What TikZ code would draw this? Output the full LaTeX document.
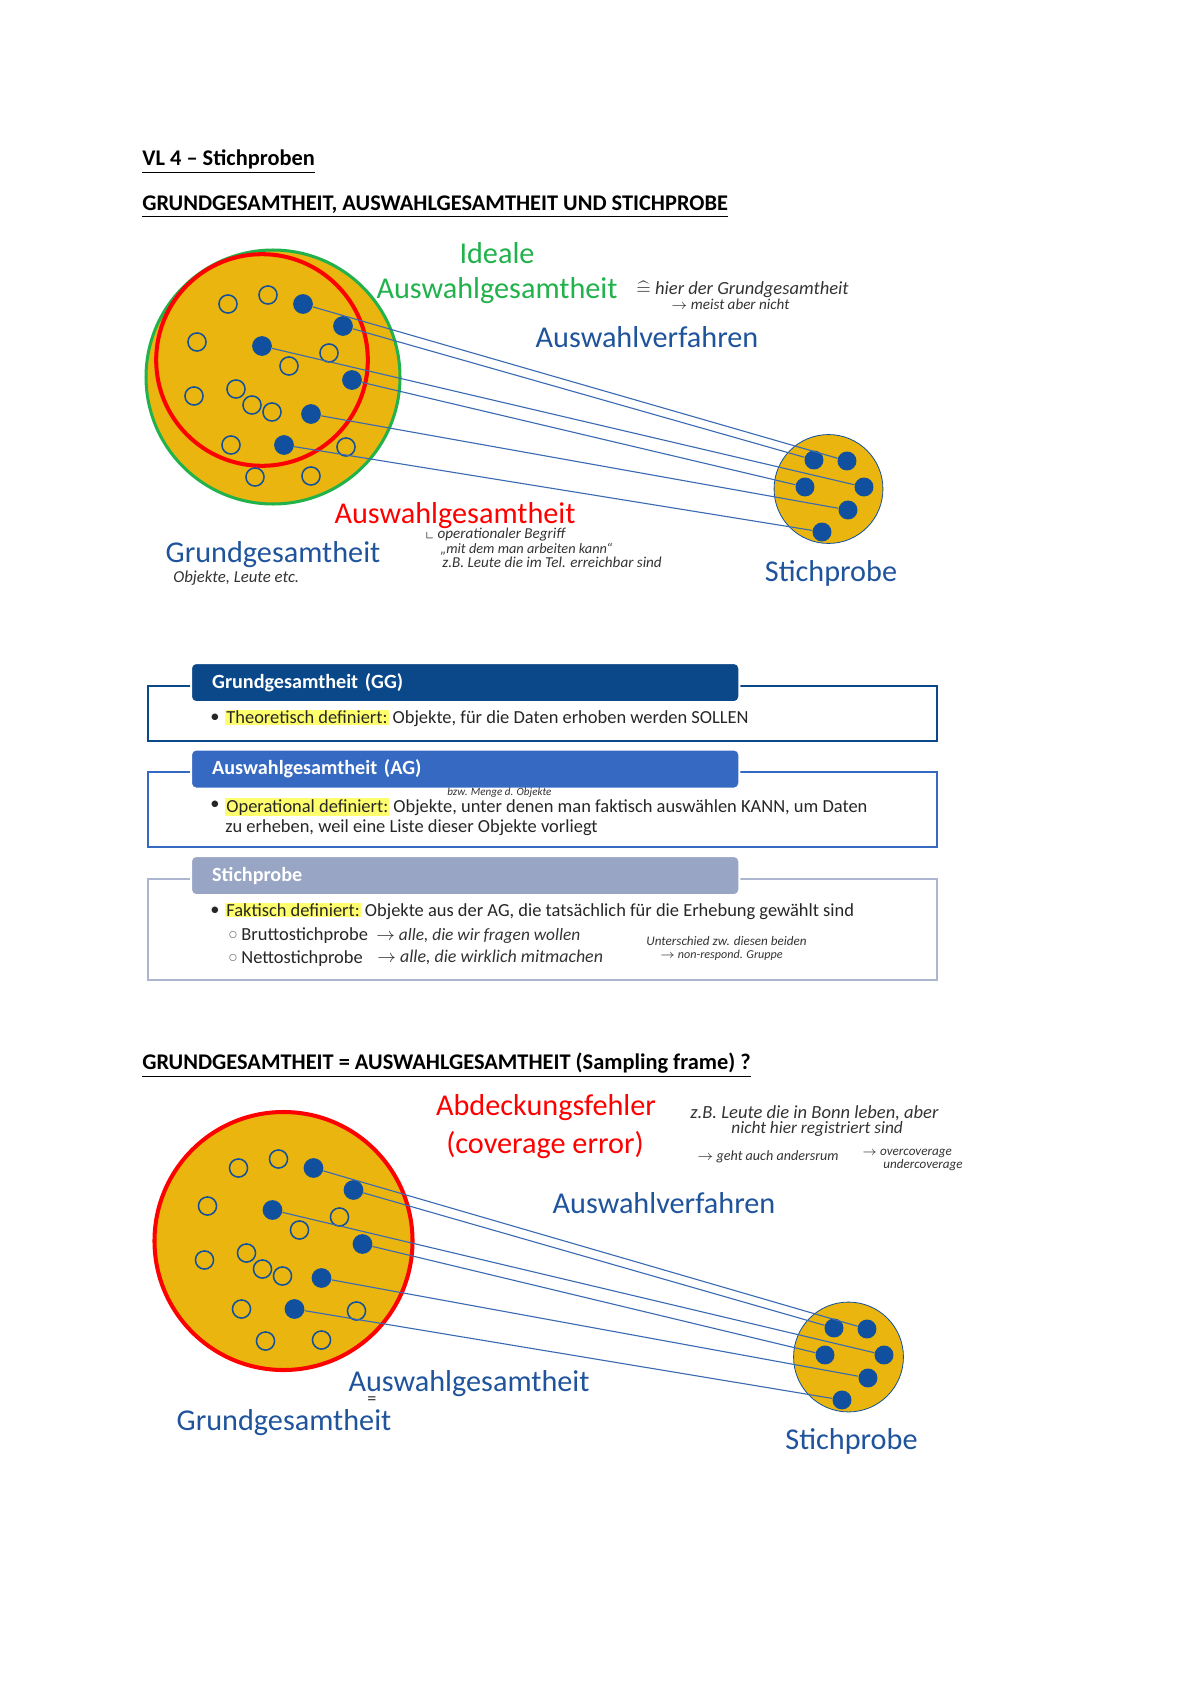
\documentclass[tikz,border=0pt]{standalone}
\usepackage{amssymb}
\usepackage{fontspec}
\setmainfont{Carlito}
\usetikzlibrary{positioning}
\definecolor{gold}{RGB}{233,181,14}
\definecolor{dotblue}{RGB}{16,80,158}
\definecolor{linkblue}{RGB}{58,106,178}
\definecolor{labelblue}{RGB}{31,84,156}
\definecolor{idealgreen}{RGB}{34,178,76}
\definecolor{agred}{RGB}{255,0,0}
\definecolor{ggblue}{RGB}{11,72,138}
\definecolor{agblue}{RGB}{54,106,194}
\definecolor{spgray}{RGB}{152,165,196}
\definecolor{spframe}{RGB}{172,182,208}
\definecolor{hlyellow}{RGB}{255,255,110}

\newcommand{\hlite}[1]{{\setlength{\fboxsep}{0.5pt}\colorbox{hlyellow}{#1}}}

% population: open circles and selected dots, #1 = name prefix
\newcommand{\drawcloud}[1]{%
  \foreach \p [count=\i] in {(228,304),(268,295),(197,342),(289,366),(329,353),(194,396),(236,389),(252,405),(272,412),(231,445),(346,447),(255,477),(311,476)}
    \node[hollowdot] (#1o\i) at \p {};
  \node[fulldot] (#1g1) at (303,304) {};
  \node[fulldot] (#1g2) at (343,326) {};
  \node[fulldot] (#1g3) at (262,346) {};
  \node[fulldot] (#1g4) at (352,380) {};
  \node[fulldot] (#1g5) at (311,414) {};
  \node[fulldot] (#1g6) at (284,445) {};
}
\newcommand{\drawsample}[1]{%
  \node[sampledot] (#1s1) at (814,460) {};
  \node[sampledot] (#1s2) at (847,461) {};
  \node[sampledot] (#1s3) at (805,487) {};
  \node[sampledot] (#1s4) at (864,487) {};
  \node[sampledot] (#1s5) at (848,510) {};
  \node[sampledot] (#1s6) at (822,532) {};
}
\newcommand{\drawpicks}[1]{%
  \foreach \g/\s in {1/2,2/1,3/4,4/3,5/5,6/6}
    \draw[pick] (#1g\g) -- (#1s\s);
}

\tikzset{
  hollowdot/.style={circle, draw=dotblue, line width=0.75pt, minimum size=9pt, inner sep=0pt},
  fulldot/.style={circle, fill=dotblue, minimum size=9.8pt, inner sep=0pt},
  sampledot/.style={fulldot, minimum size=9.4pt},
  pick/.style={linkblue, line width=0.55pt},
  biglabel/.style={font=\fontsize{15}{18}\selectfont, inner sep=0pt, text height=10pt, text depth=2pt},
  hand/.style={font=\fontsize{7.5}{9}\selectfont\itshape, text=black!80, inner sep=0pt, anchor=west},
  heading/.style={font=\fontsize{11.1}{13}\selectfont\bfseries, anchor=west, inner sep=0pt},
  boxhead/.style={anchor=north west, rounded corners=2.5pt, draw=white, line width=1pt, text=white,
    font=\fontsize{10}{12}\selectfont\bfseries, minimum width=272pt, minimum height=19.4pt,
    text width=251pt, inner xsep=10.5pt, align=left},
  boxtext/.style={font=\fontsize{9.15}{10.2}\selectfont, text=black!85, anchor=west, inner sep=0pt, align=left},
}

\begin{document}
\begin{tikzpicture}[x=0.4961pt, y=-0.4961pt]
  \useasboundingbox[fill=white] (0,0) rectangle (1200,1696);

  % Headings
  \node[heading] (title) at (142,161.5) {\underline{VL 4 – Stichproben}};
  \node[heading] (head1) at (142,207) {\underline{GRUNDGESAMTHEIT, AUSWAHLGESAMTHEIT UND STICHPROBE}};

  % Top figure
  \node[circle, draw=idealgreen, line width=1.5pt, fill=gold, minimum size=126pt] (popu) at (273,377) {};
  \node[circle, draw=agred, line width=2pt, minimum size=105pt] (frame) at (262,360) {};
  \node[circle, draw=dotblue, line width=0.4pt, fill=gold, minimum size=54pt] (sample) at (828.5,489) {};
  \drawcloud{a}
  \drawsample{a}
  \drawpicks{a}

  \node[biglabel, text=idealgreen] (ideal1) at (497,255.5) {Ideale};
  \node[biglabel, text=idealgreen] (ideal2) at (497,290.5) {Auswahlgesamtheit};
  \node[biglabel, text=labelblue] (verf) at (647,339.5) {Auswahlverfahren};
  \node[biglabel, text=agred] (aglabel) at (455,515) {Auswahlgesamtheit};
  \node[biglabel, text=labelblue] (gglabel) at (273,554) {Grundgesamtheit};
  \node[biglabel, text=labelblue] (splabel) at (831,573) {Stichprobe};

  % notes
  \node[hand, font=\fontsize{9.2}{10}\selectfont\itshape] (n1) at (636,289) {$\widehat{=}$ hier der Grundgesamtheit};
  \node[hand] (n2) at (671,304) {$\rightarrow$ meist aber nicht};
  \node[hand] (n3) at (425,535) {$\llcorner$ operationaler Begriff};
  \node[hand, font=\fontsize{7.1}{9}\selectfont\itshape] (n4) at (440,549) {„mit dem man arbeiten kann“};
  \node[hand] (n5) at (442,562.5) {z.B. Leute die im Tel. erreichbar sind};
  \node[hand, font=\fontsize{8.3}{9}\selectfont\itshape] (n6) at (173,578) {Objekte, Leute etc.};

  % Definition boxes
  \draw[ggblue, line width=1pt] (148,686) rectangle (937,741);
  \node[boxhead, fill=ggblue] (gghead) at (190,662) {Grundgesamtheit (GG)};
  \node[boxtext] (ggdot) at (210,718.5) {•};
  \node[boxtext] (ggtext) at (225,718.5) {\hlite{Theoretisch definiert:} Objekte, für die Daten erhoben werden SOLLEN};

  \draw[agblue, line width=1pt] (148,772) rectangle (937,847);
  \node[boxhead, fill=agblue] (aghead) at (190,748.5) {Auswahlgesamtheit (AG)};
  \node[boxtext] (agdot) at (210,805) {•};
  \node[boxtext, anchor=north west] (agtext) at (225,798) {\hlite{Operational definiert:} Objekte, unter denen man faktisch auswählen KANN, um Daten\\zu erheben, weil eine Liste dieser Objekte vorliegt};
  \node[hand, font=\fontsize{5.5}{6}\selectfont\itshape] (n7) at (447,793) {bzw. Menge d. Objekte};

  \draw[spframe, line width=1pt] (148,879) rectangle (937,980);
  \node[boxhead, fill=spgray] (sphead) at (190,855) {Stichprobe};
  \node[boxtext] (spdot) at (210,911) {•};
  \node[boxtext] (sptext) at (225,911) {\hlite{Faktisch definiert:} Objekte aus der AG, die tatsächlich für die Erhebung gewählt sind};
  \node[boxtext, text=black!50] (brdot) at (228,935.5) {$\circ$};
  \node[boxtext] (brutto) at (241,935.5) {Bruttostichprobe};
  \node[boxtext, text=black!50] (nedot) at (228,958.5) {$\circ$};
  \node[boxtext] (netto) at (241,958.5) {Nettostichprobe};
  \node[hand, font=\fontsize{8.6}{9}\selectfont\itshape] (n8) at (376,935.5) {$\rightarrow$ alle, die wir fragen wollen};
  \node[hand, font=\fontsize{8.9}{9}\selectfont\itshape] (n9) at (377,957) {$\rightarrow$ alle, die wirklich mitmachen};
  \node[hand, font=\fontsize{6.5}{8}\selectfont\itshape] (n10) at (646,941) {Unterschied zw. diesen beiden};
  \node[hand, font=\fontsize{6}{8}\selectfont\itshape] (n11) at (660,955) {$\rightarrow$ non-respond. Gruppe};

  % Second heading
  \node[heading] (head2) at (142,1065) {\underline{GRUNDGESAMTHEIT = AUSWAHLGESAMTHEIT (Sampling frame) ?}};

  % Bottom figure
  \begin{scope}[shift={(10.5,864)}]
    \node[circle, draw=agred, line width=2pt, fill=gold, minimum size=128pt] (popu2) at (273,377) {};
    \drawcloud{b}
  \end{scope}
  \begin{scope}[shift={(20,868)}]
    \node[circle, draw=dotblue, line width=0.4pt, fill=gold, minimum size=54.5pt] (sample2) at (828.5,489) {};
    \drawsample{b}
  \end{scope}
  \drawpicks{b}

  \node[biglabel, text=agred] (cov1) at (546,1107.5) {Abdeckungsfehler};
  \node[biglabel, text=agred] (cov2) at (545,1145.5) {(coverage error)};
  \node[biglabel, text=labelblue] (verf2) at (664,1205) {Auswahlverfahren};
  \node[biglabel, text=labelblue] (aglabel2) at (469,1383) {Auswahlgesamtheit};
  \node[hand, anchor=center, font=\fontsize{9}{9}\selectfont] (eq) at (372,1401) {=};
  \node[biglabel, text=labelblue] (gglabel2) at (284,1422.5) {Grundgesamtheit};
  \node[biglabel, text=labelblue] (splabel2) at (851.5,1441) {Stichprobe};

  \node[hand, font=\fontsize{9.2}{10}\selectfont\itshape] (n12) at (690,1113) {z.B. Leute die in Bonn leben, aber};
  \node[hand, font=\fontsize{8.6}{9}\selectfont\itshape] (n13) at (731,1128.5) {nicht hier registriert sind};
  \node[hand, font=\fontsize{7}{8}\selectfont\itshape] (n14) at (697,1156.5) {$\rightarrow$ geht auch andersrum};
  \node[hand, font=\fontsize{6.5}{8}\selectfont\itshape] (n15) at (862,1153) {$\rightarrow$ overcoverage};
  \node[hand, font=\fontsize{6.5}{8}\selectfont\itshape] (n16) at (883,1165) {undercoverage};
\end{tikzpicture}
\end{document}
